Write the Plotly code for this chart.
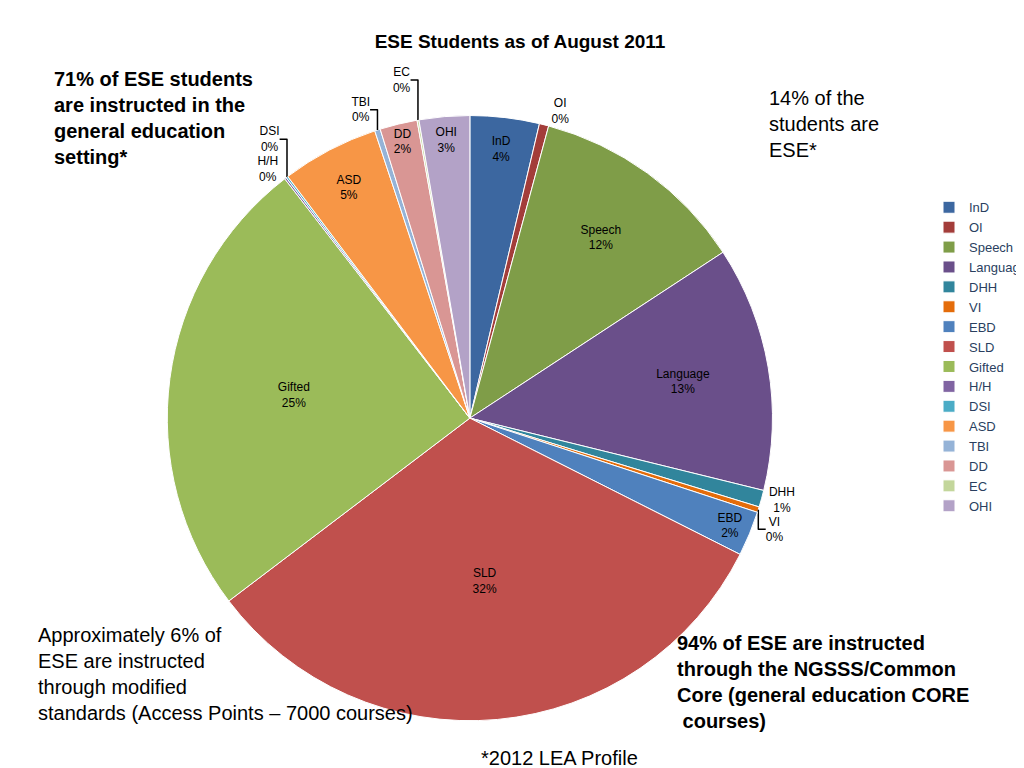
import plotly.graph_objects as go

labels = ["InD","OI","Speech","Language","DHH","VI","EBD","SLD","Gifted","H/H","DSI","ASD","TBI","DD","EC","OHI"]
values = [3.7,0.5,11.6,13.1,0.9,0.3,2.4,32.3,24.9,0.1,0.1,5.2,0.3,2.0,0.1,2.7]
colors = ["#3C67A0","#A33D3A","#7F9D48","#6A4F8A","#31859C","#E46C0A","#4F81BD","#C0504D",
          "#9BBB59","#8064A2","#4BACC6","#F79646","#95B3D7","#D99694","#C3D69B","#B3A2C7"]
positions = ["inside" if v >= 2 else "outside" for v in values]

fig = go.Figure(go.Pie(
    labels=labels, values=values, sort=False, direction="clockwise", rotation=0,
    marker=dict(colors=colors, line=dict(color="white", width=1)),
    texttemplate="%{label}<br>%{percent:.0%}", textposition=positions,
    insidetextorientation="horizontal",
    textfont=dict(family="Liberation Sans", size=12, color="black"),
    domain=dict(x=[0.155,0.748], y=[0.072,0.86]),
))
fig.update_layout(
    width=1024, height=768, margin=dict(l=0,r=0,t=0,b=0),
    paper_bgcolor="white", font=dict(family="Liberation Sans"),
    legend=dict(x=0.9, y=0.76, yanchor="top", font=dict(size=13), tracegroupgap=0),
    title=dict(text="<b>ESE Students as of August 2011</b>", x=0.5, y=0.965, font=dict(size=19, color="black")),
    annotations=[
        dict(x=0.043, y=0.925, xanchor="left", yanchor="top", align="left", showarrow=False,
             text="<b>71% of ESE students<br>are instructed in the<br>general education<br>setting*</b>", font=dict(size=20, color="black")),
        dict(x=0.742, y=0.9, xanchor="left", yanchor="top", align="left", showarrow=False,
             text="14% of the<br>students are<br>ESE*", font=dict(size=20, color="black")),
        dict(x=0.027, y=0.2, xanchor="left", yanchor="top", align="left", showarrow=False,
             text="Approximately 6% of<br>ESE are instructed<br>through modified<br>standards (Access Points – 7000 courses)", font=dict(size=20, color="black")),
        dict(x=0.652, y=0.19, xanchor="left", yanchor="top", align="left", showarrow=False,
             text="<b>94% of ESE are instructed<br>through the NGSSS/Common<br>Core (general education CORE<br> courses)</b>", font=dict(size=20, color="black")),
        dict(x=0.46, y=0.04, xanchor="left", yanchor="top", showarrow=False,
             text="*2012 LEA Profile", font=dict(size=20, color="black")),
    ],
)
fig.write_html("out.html")
